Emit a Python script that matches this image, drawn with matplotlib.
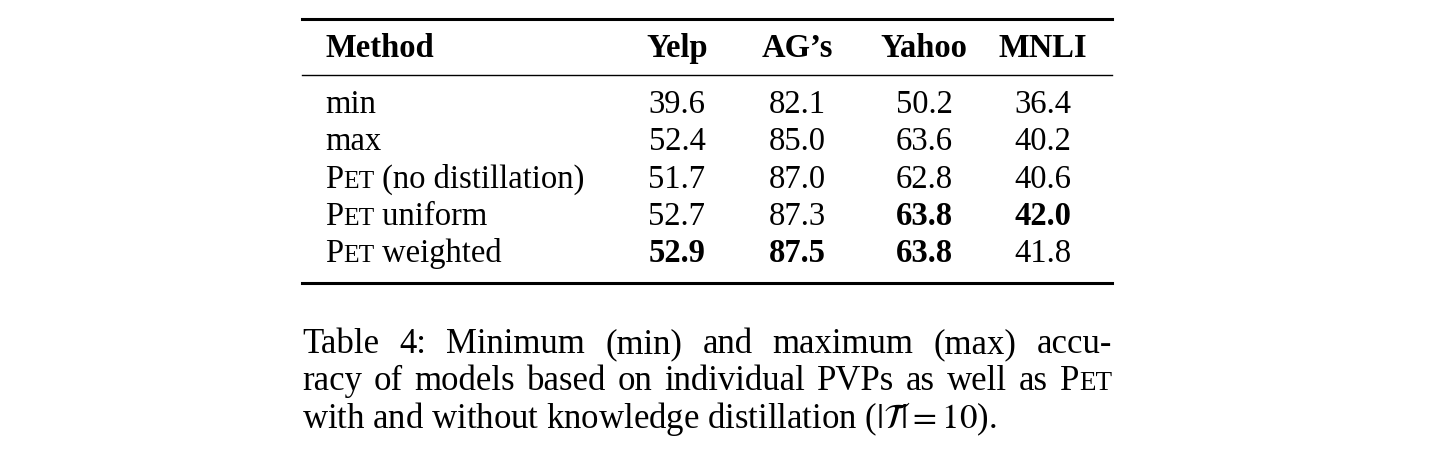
import matplotlib
matplotlib.use("Agg")
import matplotlib.pyplot as plt

plt.rcParams['font.family'] = ['Liberation Serif', 'DejaVu Serif']
plt.rcParams['mathtext.fontset'] = 'stix'

columns = ["Yelp", "AG\u2019s", "Yahoo", "MNLI"]
methods = ["min", "max", "PET (no distillation)", "PET uniform", "PET weighted"]
yelp = [39.6, 52.4, 51.7, 52.7, 52.9]
ags = [82.1, 85.0, 87.0, 87.3, 87.5]
yahoo = [50.2, 63.6, 62.8, 63.8, 63.8]
mnli = [36.4, 40.2, 40.6, 42.0, 41.8]
values = [yelp, ags, yahoo, mnli]

W, H = 1440, 461
fig = plt.figure(figsize=(W/100, H/100), dpi=100)
fig.patch.set_facecolor('white')
r = fig.canvas.get_renderer()

def px(x, y):
    return x / W, 1 - y / H

def text(x, y, s, size=23.5, weight='normal', ha='left'):
    return fig.text(*px(x, y), s, fontsize=size, weight=weight, ha=ha, va='baseline')

def width(t):
    return t.get_window_extent(r).width

def pet_text(x, y, rest, size=23.5):
    t = text(x, y, "P", size)
    x += width(t)
    t = text(x, y, "ET", size * 0.78)
    x += width(t)
    if rest:
        text(x, y, rest, size)

def hline(y, lw):
    fig.add_artist(plt.Line2D([302/W, 1112/W], [1 - y/H] * 2, color='black', lw=lw))

hline(19, 2.2)
hline(75, 1.0)
hline(283, 2.2)

col_x = [677, 797, 924, 1043]
text(325, 57, "Method", weight='bold')
for cx, c in zip(col_x, columns):
    text(cx, 57, c, weight='bold', ha='center')

row_y = [113, 150, 188, 225, 262]
for i, (m, y) in enumerate(zip(methods, row_y)):
    if m.startswith("PET"):
        pet_text(325, y, m[3:])
    else:
        text(325, y, m)
    for cx, col in zip(col_x, values):
        v = col[i]
        text(cx, y, f"{v:.1f}", weight='bold' if v == max(col) else 'normal', ha='center')

cs = 25

def justified(y, words, x0=302, x1=1112):
    # words: list of strings; "PET" rendered as small caps
    ts, ws = [], []
    for w in words:
        if w == "PET":
            a = text(0, y, "P", cs); b = text(0, y, "ET", cs * 0.78)
            ts.append((a, b)); ws.append(width(a) + width(b))
        else:
            t = text(0, y, w, cs); ts.append((t,)); ws.append(width(t))
    gap = (x1 - x0 - sum(ws)) / (len(words) - 1)
    x = x0
    for tt, w in zip(ts, ws):
        xx = x
        for t in tt:
            t.set_x(xx / W); xx += width(t)
        x += w + gap

justified(353, "Table 4:  Minimum (min) and maximum (max) accu-".replace("  ", " ").split(" "))
justified(390, "racy of models based on individual PVPs as well as PET".split(" "))
text(302, 428, r"with and without knowledge distillation ($|\mathcal{T}|=10$).", cs)

fig.savefig("out.png", dpi=100)
